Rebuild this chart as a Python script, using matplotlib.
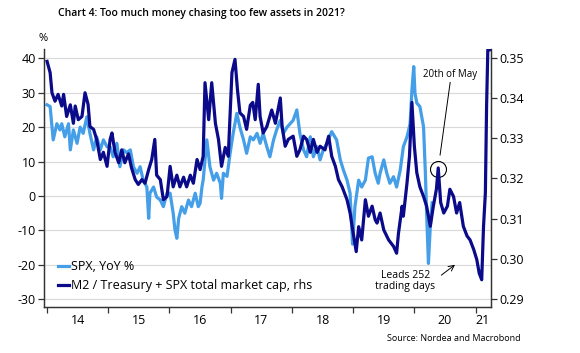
import matplotlib
matplotlib.use("Agg")
import matplotlib.pyplot as plt

plt.rcParams['font.family'] = ['Open Sans', 'DejaVu Sans']

# SPX YoY % (left axis), decimal years
spx_years = [2014.00, 2014.05, 2014.08, 2014.10, 2014.16, 2014.21, 2014.24, 2014.29, 2014.35, 2014.38,
             2014.43, 2014.49, 2014.54, 2014.59, 2014.65, 2014.70, 2014.76, 2014.81, 2014.87, 2014.92,
             2014.98, 2015.03, 2015.08, 2015.14, 2015.19, 2015.25, 2015.30, 2015.36, 2015.41, 2015.47,
             2015.52, 2015.57, 2015.63, 2015.66, 2015.68, 2015.74, 2015.79, 2015.85, 2015.90, 2015.96,
             2016.01, 2016.06, 2016.09, 2016.12, 2016.15, 2016.20, 2016.25, 2016.31, 2016.36, 2016.42,
             2016.47, 2016.50, 2016.53, 2016.55, 2016.61, 2016.66, 2016.72, 2016.77, 2016.83, 2016.85,
             2016.88, 2016.94, 2016.99, 2017.04, 2017.10, 2017.15, 2017.21, 2017.26, 2017.32, 2017.37,
             2017.43, 2017.48, 2017.53, 2017.59, 2017.64, 2017.70, 2017.75, 2017.81, 2017.86, 2017.92,
             2017.97, 2018.02, 2018.08, 2018.13, 2018.19, 2018.24, 2018.30, 2018.35, 2018.41, 2018.46,
             2018.51, 2018.57, 2018.65, 2018.73, 2018.79, 2018.84, 2018.90, 2018.95, 2018.99, 2019.03,
             2019.09, 2019.14, 2019.20, 2019.25, 2019.31, 2019.36, 2019.41, 2019.44, 2019.50, 2019.55,
             2019.60, 2019.66, 2019.71, 2019.77, 2019.82, 2019.88, 2019.93, 2019.96, 2019.99, 2020.01,
             2020.04, 2020.09, 2020.15, 2020.18, 2020.20, 2020.23, 2020.26, 2020.29]
spx_yoy = [26.5, 26, 20.1, 16.3, 21, 19.2, 21, 17.2, 21, 13.4,
           19.2, 15.3, 20, 18.2, 23, 18.2, 13.4, 17.2, 13.4, 16.3,
           14.3, 14.3, 11.4, 15.3, 8.5, 13.4, 12.6, 13.4, 8.5, 6.6,
           8.5, 4.6, 2.6, -6.5, 0.8, 2.6, -0.3, -1.2, -3.1, 0.8,
           0.8, -5, -9.9, -12.3, -6.5, -3.1, -5, -1.2, -3.1, 0.8,
           -3.1, -2.1, 2.6, 4.6, 16.3, 8.5, 4.6, 6.6, 3.7, -0.7,
           6.6, 5.7, 12.4, 18.2, 24, 20, 16.3, 12.4, 17.2, 16.3,
           18.2, 15.3, 18.2, 14.3, 11.4, 16.3, 19.2, 22, 18.2, 20,
           21, 22, 25, 18.2, 13.4, 11.4, 17.2, 11.4, 14.3, 10.5,
           13.3, 15.3, 18.7, 16.3, 10.5, 7.6, 4.6, 0.8, -14, -3,
           4.6, 2.6, 4.6, 11, 11.4, 6.6, 3.7, 6.6, 10.5, 6.6,
           3.7, 5.6, 2.6, 7.6, 14.3, 17.2, 21, 30.8, 37.6, 29.9,
           27, 26, 20.1, 6.6, -5, -19.6, -8.9, -2]

# M2 / (Treasury + SPX total market cap), right axis
m2_years = [2014.00, 2014.05, 2014.08, 2014.13, 2014.18, 2014.24, 2014.27, 2014.32, 2014.38, 2014.43,
            2014.46, 2014.51, 2014.57, 2014.62, 2014.67, 2014.70, 2014.76, 2014.81, 2014.87, 2014.92,
            2014.98, 2015.03, 2015.06, 2015.11, 2015.17, 2015.22, 2015.27, 2015.33, 2015.38, 2015.44,
            2015.49, 2015.55, 2015.60, 2015.66, 2015.71, 2015.76, 2015.79, 2015.85, 2015.90, 2015.96,
            2016.01, 2016.06, 2016.12, 2016.17, 2016.23, 2016.28, 2016.34, 2016.39, 2016.45, 2016.50,
            2016.55, 2016.58, 2016.64, 2016.69, 2016.75, 2016.80, 2016.85, 2016.91, 2016.96, 2017.02,
            2017.07, 2017.11, 2017.15, 2017.21, 2017.26, 2017.32, 2017.36, 2017.40, 2017.45, 2017.48,
            2017.53, 2017.59, 2017.67, 2017.73, 2017.81, 2017.84, 2017.89, 2017.94, 2018.02, 2018.08,
            2018.13, 2018.19, 2018.24, 2018.30, 2018.35, 2018.41, 2018.46, 2018.54, 2018.60, 2018.65,
            2018.71, 2018.76, 2018.82, 2018.90, 2018.95, 2019.00, 2019.05, 2019.09, 2019.14, 2019.20,
            2019.25, 2019.31, 2019.36, 2019.39, 2019.44, 2019.50, 2019.58, 2019.66, 2019.71, 2019.74,
            2019.80, 2019.82, 2019.88, 2019.92, 2019.96, 2020.00, 2020.04, 2020.09, 2020.15, 2020.20,
            2020.26, 2020.31, 2020.36, 2020.39, 2020.43, 2020.48, 2020.54, 2020.58, 2020.64, 2020.69,
            2020.74, 2020.80, 2020.86, 2020.91, 2020.97, 2021.02, 2021.06, 2021.10, 2021.13, 2021.16,
            2021.18, 2021.20, 2021.23]
m2_ratio = [0.3491, 0.3463, 0.3413, 0.3392, 0.3409, 0.3380, 0.3409, 0.3354, 0.3383, 0.3337,
            0.3380, 0.3346, 0.3354, 0.3413, 0.3384, 0.3329, 0.3322, 0.3297, 0.3247, 0.3265,
            0.3230, 0.3297, 0.3313, 0.3265, 0.3239, 0.3271, 0.3239, 0.3261, 0.3226, 0.3197,
            0.3185, 0.3197, 0.3188, 0.3222, 0.3247, 0.3297, 0.3208, 0.3197, 0.3147, 0.3155,
            0.3230, 0.3179, 0.3208, 0.3179, 0.3203, 0.3179, 0.3208, 0.3188, 0.3247, 0.3222,
            0.3255, 0.3438, 0.3346, 0.3438, 0.3337, 0.3297, 0.3230, 0.3277, 0.3255, 0.3463,
            0.3496, 0.3421, 0.3363, 0.3354, 0.3322, 0.3382, 0.3389, 0.3346, 0.3434, 0.3354,
            0.3313, 0.3329, 0.3370, 0.3337, 0.3400, 0.3329, 0.3280, 0.3297, 0.3305, 0.3255,
            0.3271, 0.3305, 0.3297, 0.3265, 0.3297, 0.3265, 0.3280, 0.3271, 0.3305, 0.3255,
            0.3230, 0.3197, 0.3179, 0.3147, 0.3114, 0.3065, 0.3018, 0.3080, 0.3047, 0.3147,
            0.3106, 0.3131, 0.3097, 0.3089, 0.3114, 0.3072, 0.3047, 0.3031, 0.3014, 0.3063,
            0.3131, 0.3106, 0.3189, 0.3255, 0.3389, 0.3280, 0.3214, 0.3179, 0.3155, 0.3131,
            0.3081, 0.3131, 0.3173, 0.3226, 0.3140, 0.3114, 0.3131, 0.3173, 0.3155, 0.3114,
            0.3140, 0.3081, 0.3057, 0.3047, 0.3023, 0.2998, 0.2964, 0.2948, 0.3081, 0.3164,
            0.3380, 0.3520, 0.3520]

year_labels = ['14', '15', '16', '17', '18', '19', '20', '21']
label_pos = [2014.5, 2015.5, 2016.5, 2017.5, 2018.5, 2019.5, 2020.5, 2021.12]
left_ticks = [40, 30, 20, 10, 0, -10, -20, -30]
right_ticks = [0.29, 0.30, 0.31, 0.32, 0.33, 0.34, 0.35]

light = '#459ee8'
dark = '#0a0a8a'
axis_col = '#333333'

fig = plt.figure(figsize=(5.8, 3.53), dpi=100)
ax = fig.add_axes([0.0764, 0.131, 0.771, 0.730])
ax2 = ax.twinx()

ax.plot(spx_years, spx_yoy, color=light, lw=2.3, label='SPX, YoY %')
ax2.plot(m2_years, m2_ratio, color=dark, lw=2.3,
         label='M2 / Treasury + SPX total market cap, rhs')

ax.set_xlim(2013.955, 2021.26)
ax.set_ylim(-32.2, 42.7)
ax2.set_ylim(0.28809, 0.35216)

ax.set_yticks(left_ticks)
ax.set_yticklabels([str(t) for t in left_ticks])
ax2.set_yticks(right_ticks)
ax2.set_yticklabels(['%.2f' % t for t in right_ticks])

ax.set_xticks(range(2014, 2022))
ax.set_xticklabels([])
ax.set_xticks(label_pos, minor=True)
ax.set_xticklabels(year_labels, minor=True)
ax.tick_params(axis='x', which='major', length=4, width=0.9, color=axis_col)
ax.tick_params(axis='x', which='minor', length=0, pad=5, labelsize=9)
ax.tick_params(axis='y', length=4, width=0.9, color=axis_col, pad=2, labelsize=9)
ax2.tick_params(axis='y', length=4, width=0.9, color=axis_col, pad=2, labelsize=9)

ax.grid(axis='y', color='#d9d9d9', lw=0.8)
ax.set_axisbelow(True)

for a in (ax, ax2):
    a.spines['top'].set_visible(False)
    for s in ('left', 'right', 'bottom'):
        a.spines[s].set_color(axis_col)
        a.spines[s].set_linewidth(0.9)

h1, l1 = ax.get_legend_handles_labels()
h2, l2 = ax2.get_legend_handles_labels()
ax2.legend(h1 + h2, l1 + l2, loc='upper left', bbox_to_anchor=(0.03, 0.18),
           frameon=False, fontsize=9, handlelength=0.9, handletextpad=0.15,
           labelspacing=0.45, borderpad=0, borderaxespad=0)

# annotations
ax.text(2020.585, 35.2, '20th of May', fontsize=7, ha='center', va='center')
ax.plot([2020.585, 2020.42], [33.0, 11.9], color='black', lw=0.7)
ax.plot([2020.394], [7.8], marker='o', ms=11.5, mfc='none', mec='black', mew=0.8)
ax.text(2019.85, -24.7, 'Leads 252\ntrading days', fontsize=7.5, ha='center', va='center',
        linespacing=1.1)
ax.annotate('', xy=(2020.70, -19.5), xytext=(2020.405, -23.5),
            arrowprops=dict(arrowstyle='->', color='black', lw=0.7))

fig.text(0.1, 0.962, 'Chart 4: Too much money chasing too few assets in 2021?',
         fontsize=7.5, fontweight='semibold', ha='left', va='center')
fig.text(0.074, 0.89, '%', fontsize=8, ha='center', va='center')
fig.text(0.897, 0.04, 'Source: Nordea and Macrobond', fontsize=6.5, ha='right', va='center')

fig.savefig('out.png', dpi=100)
